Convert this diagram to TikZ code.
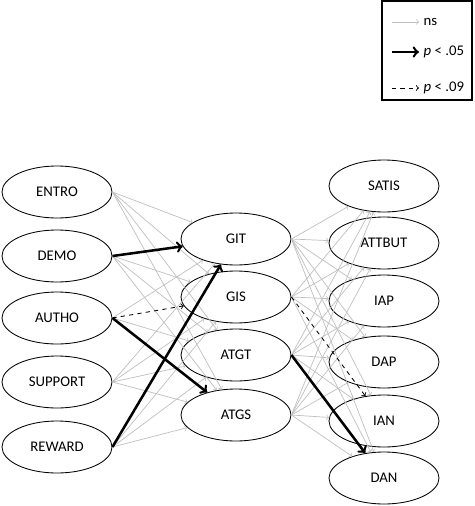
\documentclass[tikz,border=0pt]{standalone}
\usepackage{fontspec}
\setmainfont{Carlito}
\usetikzlibrary{shapes.geometric}

\tikzset{
  var/.style={draw, ellipse, line width=0.6pt, minimum width=2.75cm,
    minimum height=1.3cm, inner sep=0pt, font=\fontsize{10.5}{12}\selectfont},
  ns/.style={->, draw=black!25, line width=0.5pt},
  sig/.style={->, line width=1.8pt},
  trend/.style={->, dashed, line width=0.6pt},
  legtext/.style={right, inner sep=1pt, font=\fontsize{10.5}{12}\selectfont},
}

\begin{document}
\begin{tikzpicture}[x=0.025cm, y=-0.025cm]
      \useasboundingbox (0,0) rectangle (474,506);

      \node[var] (ENTRO) at (57,192) {ENTRO};
      \node[var] (DEMO) at (57,256) {DEMO};
      \node[var] (AUTHO) at (57,318) {AUTHO};
      \node[var] (SUPPORT) at (57,382) {SUPPORT};
      \node[var] (REWARD) at (57,447) {REWARD};

      \node[var] (GIT) at (236,239) {GIT};
      \node[var] (GIS) at (236,297) {GIS};
      \node[var] (ATGT) at (236,355) {ATGT};
      \node[var] (ATGS) at (236,415) {ATGS};

      \node[var] (SATIS) at (384,186) {SATIS};
      \node[var] (ATTBUT) at (384,243) {ATTBUT};
      \node[var] (IAP) at (384,301) {IAP};
      \node[var] (DAP) at (384,362) {DAP};
      \node[var] (IAN) at (384,421) {IAN};
      \node[var] (DAN) at (384,478) {DAN};

      \draw[ns] (ENTRO.east) -- (GIT);
      \draw[ns] (ENTRO.east) -- (GIS);
      \draw[ns] (ENTRO.east) -- (ATGT);
      \draw[ns] (ENTRO.east) -- (ATGS);
      \draw[ns] (DEMO.east) -- (GIS);
      \draw[ns] (DEMO.east) -- (ATGT);
      \draw[ns] (DEMO.east) -- (ATGS);
      \draw[ns] (AUTHO.east) -- (GIT);
      \draw[ns] (AUTHO.east) -- (ATGT);
      \draw[ns] (SUPPORT.east) -- (GIT);
      \draw[ns] (SUPPORT.east) -- (GIS);
      \draw[ns] (SUPPORT.east) -- (ATGT);
      \draw[ns] (SUPPORT.east) -- (ATGS);
      \draw[ns] (REWARD.east) -- (GIS);
      \draw[ns] (REWARD.east) -- (ATGT);
      \draw[ns] (REWARD.east) -- (ATGS);

      \draw[ns] (GIT.east) -- (SATIS);
      \draw[ns] (GIT.east) -- (ATTBUT);
      \draw[ns] (GIT.east) -- (IAP);
      \draw[ns] (GIT.east) -- (DAP);
      \draw[ns] (GIT.east) -- (IAN);
      \draw[ns] (GIT.east) -- (DAN);
      \draw[ns] (GIS.east) -- (SATIS);
      \draw[ns] (GIS.east) -- (ATTBUT);
      \draw[ns] (GIS.east) -- (IAP);
      \draw[ns] (GIS.east) -- (DAP);
      \draw[ns] (GIS.east) -- (DAN);
      \draw[ns] (ATGT.east) -- (SATIS);
      \draw[ns] (ATGT.east) -- (ATTBUT);
      \draw[ns] (ATGT.east) -- (IAP);
      \draw[ns] (ATGT.east) -- (DAP);
      \draw[ns] (ATGT.east) -- (IAN);
      \draw[ns] (ATGS.east) -- (SATIS);
      \draw[ns] (ATGS.east) -- (ATTBUT);
      \draw[ns] (ATGS.east) -- (IAP);
      \draw[ns] (ATGS.east) -- (DAP);
      \draw[ns] (ATGS.east) -- (IAN);
      \draw[ns] (ATGS.east) -- (DAN);

      \draw[sig] (DEMO.east) -- (GIT);
      \draw[sig] (REWARD.east) -- (GIT);
      \draw[sig] (AUTHO.east) -- (ATGS);
      \draw[sig] (ATGT.east) -- (DAN);
      \draw[trend] (AUTHO.east) -- (GIS);
      \draw[trend] (GIS.east) -- (IAN);

      \draw[line width=1pt] (382,1) rectangle (472,100);
      \coordinate (L1a) at (392,22);
      \coordinate (L1b) at (419,22);
      \coordinate (L2a) at (392,52);
      \coordinate (L2b) at (419,52);
      \coordinate (L3a) at (392,88);
      \coordinate (L3b) at (419,88);
      \draw[ns] (L1a) -- (L1b);
      \draw[sig] (L2a) -- (L2b);
      \draw[trend] (L3a) -- (L3b);
      \node[legtext] (nslab) at (422,22) {ns};
      \node[legtext] (siglab) at (422,52) {\textit{p} < .05};
      \node[legtext] (trendlab) at (422,88) {\textit{p} < .09};
\end{tikzpicture}
\end{document}
